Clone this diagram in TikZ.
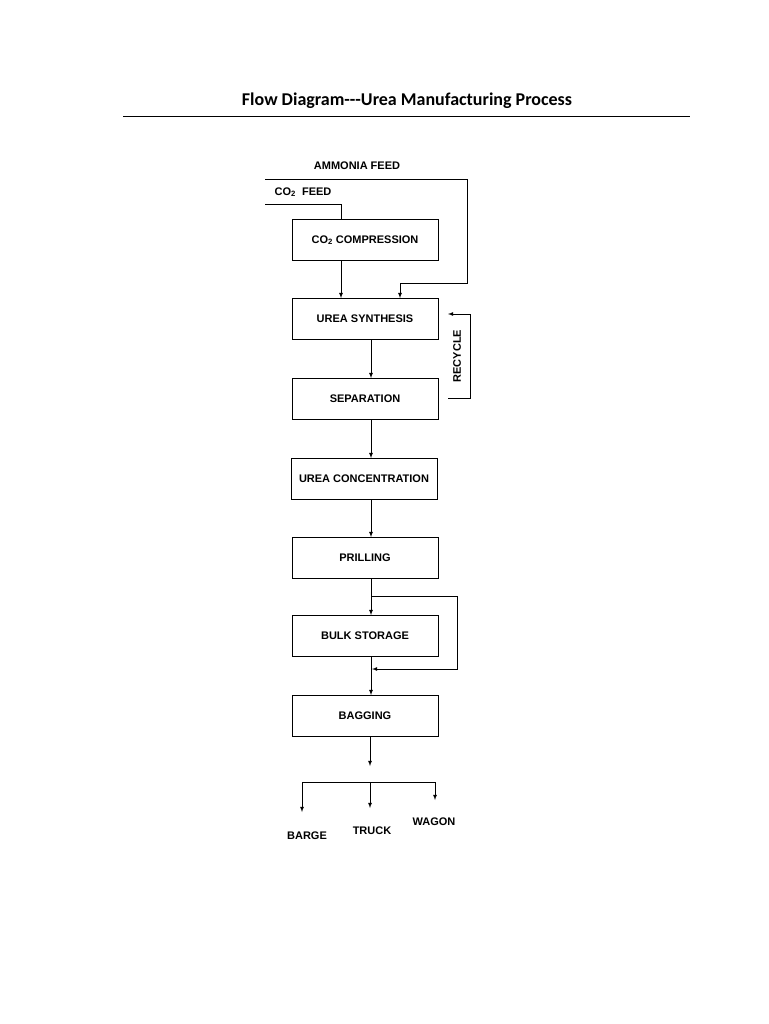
\documentclass[tikz,border=0pt]{standalone}
\usepackage{fontspec}
\setmainfont{Liberation Sans}
\newfontfamily\titlefont{Carlito}
\usetikzlibrary{positioning, arrows}
\tikzset{
x=1pt, y=-1pt, % pixel grid of the page
unit/.style={draw, thick, minimum width=146pt, minimum height=41pt, font=\bfseries\fontsize{11}{12}\selectfont}, % process boxes
flow/.style={thick, -latex}, % directed process lines
tag/.style={font=\bfseries\fontsize{11}{12}\selectfont}, % stream labels
}
\def\cotwo{CO\textsubscript{2}}

\begin{document}
\begin{tikzpicture}
    \useasboundingbox (0,0) rectangle (768,1024);

    \node[font=\titlefont\bfseries\fontsize{18}{20}\selectfont] (title) at (407,101) {Flow Diagram---Urea Manufacturing Process};
    \draw (123,116) -- (690,116);

    \node[unit] (comp) at (365,240) {\cotwo\ COMPRESSION};
    \node[unit] (synth) at (365,319) {UREA SYNTHESIS};
    \node[unit] (sep) at (365,399) {SEPARATION};
    \node[unit, inner xsep=1pt] (conc) at (364,479) {UREA CONCENTRATION};
    \node[unit] (prill) at (365,558) {PRILLING};
    \node[unit] (bulk) at (365,636) {BULK STORAGE};
    \node[unit] (bag) at (365,716) {BAGGING};

    % feeds
    \node[tag] (nh3) at (357,166) {AMMONIA FEED};
    \node[tag] (co2) at (303,192) {\cotwo\ \ FEED};
    \coordinate (nh3in) at (265,179);
    \coordinate (co2in) at (265,204);
    \draw[flow] (nh3in) -- (467,179) -- (467,283) -- (400,283) -- ([xshift=35pt]synth.north);
    \draw[thick] (co2in) -- (341,204) -- ([xshift=-24pt]comp.north);
    \draw[flow] ([xshift=-24pt]comp.south) -- ([xshift=-24pt]synth.north);

    % main line
    \draw[flow] ([xshift=6pt]synth.south) -- ([xshift=6pt]sep.north);
    \draw[flow] ([xshift=6pt]sep.south) -- ([xshift=7pt]conc.north);
    \draw[flow] ([xshift=7pt]conc.south) -- ([xshift=6pt]prill.north);
    \draw[flow] ([xshift=6pt]prill.south) -- ([xshift=6pt]bulk.north);
    \draw[flow] ([xshift=6pt]bulk.south) -- ([xshift=6pt]bag.north);

    % recycle
    \draw[flow] (448,398) -- (470,398) -- (470,314) -- (448,314);
    \node[tag, rotate=90] (rec) at (457,356) {RECYCLE};

    % bypass of storage
    \draw[flow] (371,596) -- (457,596) -- (457,669) -- (372,669);

    % dispatch
    \coordinate (split) at (370,782);
    \draw[flow] ([xshift=5pt]bag.south) -- (370,766);
    \draw[thick] (302,782) -- (435,782);
    \node[tag] (barge) at (307,836) {BARGE};
    \node[tag] (truck) at (372,831) {TRUCK};
    \node[tag] (wagon) at (434,822) {WAGON};
    \draw[flow] (302,782) -- (302,812);
    \draw[flow] (split) -- (370,808);
    \draw[flow] (435,782) -- (435,800);
\end{tikzpicture}
\end{document}
